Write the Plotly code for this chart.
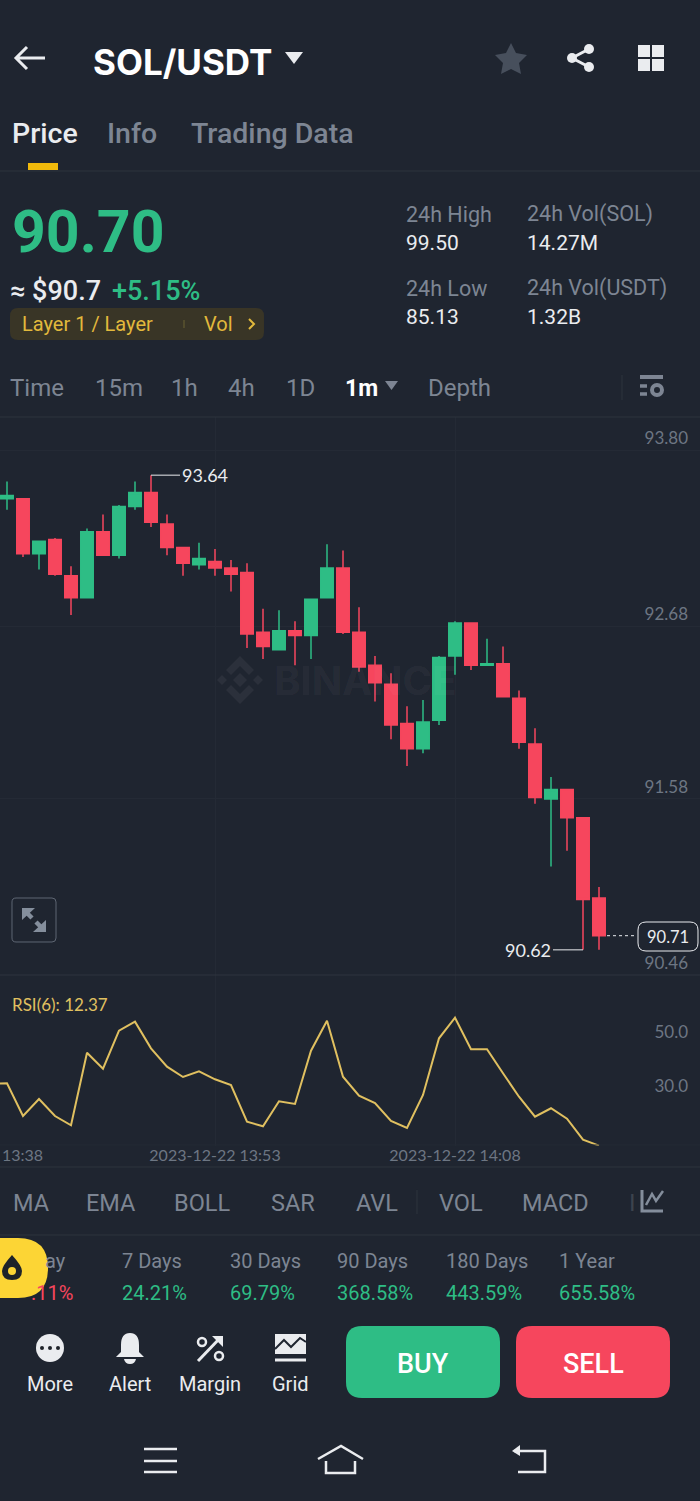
# SOL/USDT 1m candles with RSI, laid out like the Binance app screen
import pandas as pd
import plotly.graph_objects as go
from plotly.subplots import make_subplots

W, H = 700, 1501
BG = '#1f2530'
GREEN = '#2ebd85'
RED = '#f6465d'
YELLOW = '#f0b90b'
GOLD = '#e0c060'
GREY = '#7d8593'
AXIS_GREY = '#6d7683'
WHITE = '#eaecef'
GRID = '#242a35'
RULE = '#2e343e'
UI_FONT = 'Roboto'
CHART_FONT = 'Lato'

# candles, one per minute from 13:40
opens = [93.49, 93.49, 93.14, 93.23, 93.00, 92.86, 93.28, 93.13, 93.44, 93.53,
         93.33, 93.18, 93.07, 93.09, 93.05, 93.02, 92.64, 92.53, 92.65, 92.62,
         92.86, 93.05, 92.64, 92.43, 92.31, 92.06, 91.90, 92.08, 92.49, 92.70,
         92.43, 92.44, 92.22, 91.93, 91.58, 91.64, 91.46, 90.95]
highs = [93.60, 93.49, 93.22, 93.24, 93.06, 93.30, 93.39, 93.45, 93.60, 93.64,
         93.39, 93.18, 93.21, 93.17, 93.10, 93.08, 92.79, 92.78, 92.71, 92.85,
         93.20, 93.16, 92.80, 92.49, 92.38, 92.17, 92.21, 92.49, 92.71, 92.70,
         92.60, 92.55, 92.27, 92.03, 91.72, 91.64, 91.46, 91.02]
lows = [93.42, 93.12, 93.04, 93.00, 92.75, 92.86, 93.13, 93.11, 93.42, 93.31,
        93.13, 93.00, 93.04, 93.00, 92.90, 92.54, 92.47, 92.53, 92.43, 92.47,
        92.86, 92.63, 92.39, 92.20, 91.96, 91.79, 91.87, 92.05, 92.37, 92.40,
        92.43, 92.23, 91.90, 91.55, 91.15, 91.25, 90.62, 90.62]
closes = [93.51, 93.14, 93.22, 93.01, 92.86, 93.28, 93.13, 93.44, 93.53, 93.34,
          93.18, 93.08, 93.11, 93.05, 93.01, 92.63, 92.55, 92.65, 92.62, 92.85,
          93.05, 92.64, 92.42, 92.32, 92.05, 91.90, 92.07, 92.48, 92.70, 92.43,
          92.44, 92.23, 91.94, 91.59, 91.64, 91.46, 90.94, 90.71]
# rsi starts one minute earlier, the line comes in from off screen
rsi = [35.2, 35.44, 23.33, 29.63, 23.33, 19.89, 46.78, 40.85, 54.93, 58.26, 48.41,
       41.59, 37.78, 39.89, 36.93, 34.81, 21.22, 19.52, 28.78, 27.78, 47.52,
       58.63, 37.89, 30.85, 28.15, 21.48, 18.89, 31.11, 52.11, 59.74, 48.04,
       48.04, 39.15, 30.48, 23.07, 26.19, 22.33, 14.56, 12.37]
times = pd.date_range('2023-12-22 13:40', periods=len(opens), freq='min')
rsi_times = pd.date_range('2023-12-22 13:39', periods=len(rsi), freq='min')

price_ticks = [93.80, 92.68, 91.58, 90.46]
rsi_ticks = [50, 30]
time_ticks = ['2023-12-22 13:53', '2023-12-22 14:08']

tabs = [('Price', 12, WHITE), ('Info', 107, GREY), ('Trading Data', 191, GREY)]
intervals = [('Time', 10), ('15m', 95), ('1h', 171), ('4h', 228), ('1D', 286), ('Depth', 428)]
indicators = [('MA', 13), ('EMA', 86), ('BOLL', 174), ('SAR', 271), ('AVL', 356),
              ('VOL', 439), ('MACD', 522)]
periods = [('7 Days', '24.21%', 122), ('30 Days', '69.79%', 230), ('90 Days', '368.58%', 337),
           ('180 Days', '443.59%', 446), ('1 Year', '655.58%', 559)]
stats = [('24h High', '99.50', 406, 214), ('24h Vol(SOL)', '14.27M', 527, 214),
         ('24h Low', '85.13', 406, 288), ('24h Vol(USDT)', '1.32B', 527, 288)]
actions = [('More', 50), ('Alert', 130), ('Margin', 210), ('Grid', 290)]


def frac_y(y):
    return 1 - y / H


fig = make_subplots(rows=2, cols=1, shared_xaxes=True)
fig.add_trace(go.Candlestick(
    x=times, open=opens, high=highs, low=lows, close=closes, whiskerwidth=0,
    increasing=dict(line=dict(color=GREEN, width=1.5), fillcolor=GREEN),
    decreasing=dict(line=dict(color=RED, width=1.5), fillcolor=RED),
    hoverinfo='skip'), row=1, col=1)
fig.add_trace(go.Scatter(x=rsi_times, y=rsi, mode='lines', hoverinfo='skip',
                         line=dict(color=GOLD, width=2)), row=2, col=1)

# 16 px per minute, first candle centred at x=7
left = times[0] - pd.Timedelta(minutes=7 / 16)
right = left + pd.Timedelta(minutes=W / 16)
fig.update_xaxes(range=[left, right], showgrid=True, gridcolor=GRID, gridwidth=1,
                 zeroline=False, showline=False, ticks='', tickvals=time_ticks,
                 tickformat='%Y-%m-%d %H:%M', rangeslider_visible=False,
                 ticklabelstandoff=-2,
                 tickfont=dict(family=CHART_FONT, size=16, color=AXIS_GREY))
fig.update_xaxes(showticklabels=False, row=1, col=1)
fig.update_yaxes(side='right', ticklabelposition='inside', ticks='', zeroline=False,
                 showline=False, gridcolor=GRID, gridwidth=1, ticklabelstandoff=9,
                 ticklabelshift=-12,
                 tickfont=dict(family=CHART_FONT, size=17, color=AXIS_GREY))
fig.update_yaxes(domain=[frac_y(975), frac_y(417)], range=[90.46, 94.01],
                 tickvals=price_ticks, tickformat='.2f', row=1, col=1)
fig.update_yaxes(domain=[frac_y(1146), frac_y(975)], range=[12.22, 75.56],
                 tickvals=rsi_ticks, tickformat='.1f', showgrid=False, row=2, col=1)

shapes = []
notes = []


def text(s, x, y, size, color=GREY, anchor='left', weight=400, family=UI_FONT):
    if anchor == 'left':
        x -= 1.5
    notes.append(dict(text=s, x=x / W, y=frac_y(y), xref='paper', yref='paper',
                      xanchor=anchor, yanchor='middle', showarrow=False, borderpad=0,
                      font=dict(family=family, size=size, color=color, weight=weight)))


def path(d):
    # svg style path in screen pixels -> paper fractions
    out = []
    is_x = True
    for tok in d.split():
        if tok.isalpha():
            out.append(tok)
        else:
            val = float(tok)
            out.append(f'{val / W:.5f}' if is_x else f'{frac_y(val):.5f}')
            is_x = not is_x
    return ' '.join(out)


def draw(d, fill=None, line=None, width=0, layer='above'):
    shapes.append(dict(type='path', path=path(d), xref='paper', yref='paper', layer=layer,
                       fillcolor=fill or 'rgba(0,0,0,0)',
                       line=dict(color=line or 'rgba(0,0,0,0)', width=width)))


def rrect(x0, y0, x1, y1, r):
    return (f'M {x0 + r} {y0} L {x1 - r} {y0} Q {x1} {y0} {x1} {y0 + r} L {x1} {y1 - r} '
            f'Q {x1} {y1} {x1 - r} {y1} L {x0 + r} {y1} Q {x0} {y1} {x0} {y1 - r} '
            f'L {x0} {y0 + r} Q {x0} {y0} {x0 + r} {y0} Z')


def circle(cx, cy, r, fill=None, line=None, width=0):
    shapes.append(dict(type='circle', xref='paper', yref='paper',
                       x0=(cx - r) / W, x1=(cx + r) / W,
                       y0=frac_y(cy + r), y1=frac_y(cy - r),
                       fillcolor=fill or 'rgba(0,0,0,0)',
                       line=dict(color=line or 'rgba(0,0,0,0)', width=width)))


# rules
for y, col in [(171, RULE), (417, RULE), (975, RULE), (1145, GRID), (1167, RULE), (1235, RULE)]:
    draw(f'M 0 {y} L {W} {y}', line=col, width=1)

# header
draw('M 16 58 L 45 58 M 27 47 L 16 58 L 27 69', line=WHITE, width=3)
text('SOL/USDT', 93, 62, 35, 'white', weight=700, family='Inter')
draw('M 285 52 L 303 52 L 294 64 Z', fill=WHITE)
draw('M 511 43 L 516 53 L 527 55 L 519 63 L 521 74 L 511 69 L 501 74 L 503 63 L 495 55 L 506 53 Z',
     fill='#474f5c')
draw('M 589 49 L 572 58 L 589 67', line=WHITE, width=3)
for cx, cy in [(589, 49), (572, 58), (589, 67)]:
    circle(cx, cy, 5, fill=WHITE)
for x0, y0 in [(638, 45), (652, 45), (638, 59), (652, 59)]:
    draw(f'M {x0} {y0} L {x0 + 12} {y0} L {x0 + 12} {y0 + 12} L {x0} {y0 + 12} Z', fill=WHITE)

# tabs
for name, x, col in tabs:
    text(name, x, 134, 28.5, col, weight=500)
draw('M 28 163 L 58 163 L 58 170 L 28 170 Z', fill=YELLOW)

# price block
text('90.70', 12, 231, 59, GREEN, weight=700)
text('≈ $90.7', 10, 291, 27, WHITE, weight=500)
text('+5.15%', 112, 291, 27, GREEN, weight=500)
draw(rrect(10, 308, 264, 340, 8), fill='#393526')
text('Layer 1 / Layer', 22, 324, 20, '#e2b93c')
draw('M 184 320 L 184 328', line='#6b6232', width=1)
text('Vol', 204, 324, 20, '#e2b93c')
draw('M 249 319 L 254 324 L 249 329', line='#e2b93c', width=2)
for label, value, x, y in stats:
    text(label, x, y, 21.5, GREY)
    text(value, x, y + 29, 21, WHITE)

# interval row
for name, x in intervals:
    text(name, x, 388, 24, GREY)
text('1m', 345, 388, 23, 'white', weight=700)
draw('M 385 381 L 398 381 L 391.5 390 Z', fill=GREY)
draw('M 622 375 L 622 400', line=RULE, width=1)
draw('M 640 377 L 663 377', line=GREY, width=4)
draw('M 640 386 L 647 386 M 640 394 L 647 394', line=GREY, width=3.5)
circle(657, 390, 5, fill=BG, line=GREY, width=4)

# expand button
draw(rrect(12, 898, 56, 942, 4), line='#5e6673', width=1)
draw('M 27 913 L 32 918 M 36 922 L 41 927', line='#848e9c', width=4.5)
draw('M 22 908 L 35 908 L 22 920 Z M 46 932 L 33 932 L 46 920 Z', fill='#848e9c')

# watermark
wm = 'rgba(255,255,255,0.055)'
draw('M 240 673 L 247 680 L 240 687 L 233 680 Z', fill=wm, layer='below')
draw('M 222 675 L 227 680 L 222 685 L 217 680 Z M 258 675 L 263 680 L 258 685 L 253 680 Z',
     fill=wm, layer='below')
draw('M 240 656 L 254 670 L 249 675 L 240 666 L 231 675 L 226 670 Z', fill=wm, layer='below')
draw('M 240 704 L 254 690 L 249 685 L 240 694 L 231 685 L 226 690 Z', fill=wm, layer='below')
text('BINANCE', 274, 680, 40, wm, weight=700, family='Inter')

# high / low markers
notes.append(dict(x=times[9], y=highs[9], xref='x', yref='y', text='93.64', ax=29, ay=0,
                  showarrow=True, arrowhead=0, arrowwidth=1, arrowcolor=WHITE,
                  xanchor='left', font=dict(family=CHART_FONT, size=18, color=WHITE)))
notes.append(dict(x=times[36], y=lows[36], xref='x', yref='y', text='90.62', ax=-30, ay=0,
                  showarrow=True, arrowhead=0, arrowwidth=1, arrowcolor=WHITE,
                  xanchor='right', font=dict(family=CHART_FONT, size=18, color=WHITE)))

# last price tag
shapes.append(dict(type='line', xref='paper', yref='y', x0=607 / W, x1=635 / W,
                   y0=closes[-1], y1=closes[-1], line=dict(color=WHITE, width=1, dash='3px,3px')))
draw(rrect(638, 922, 698, 951, 8), fill=BG, line=WHITE, width=1)
text('90.71', 668, 937, 16.5, WHITE, anchor='center', family=CHART_FONT)

# rsi pane text
text('RSI(6): 12.37', 12, 1005, 17, GOLD, family=CHART_FONT)
text('13:38', 2, 1154.5, 16, AXIS_GREY, family=CHART_FONT)

# indicator row
for name, x in indicators:
    text(name, x, 1203, 23.5, GREY)
text('I', 629, 1203, 24, '#3d434e')
draw('M 417 1190 L 417 1214', line=RULE, width=1)
draw('M 642 1190 L 642 1211 L 663 1211', line='#848e9c', width=3)
draw('M 646 1205 L 652 1194 L 656 1201 L 663 1191', line='#848e9c', width=2.5)

# period returns
text('ay', 67, 1261, 20, GREY, anchor='right')
text('.11%', 74, 1293, 20, RED, anchor='right')
for label, value, x in periods:
    text(label, x, 1261, 20, GREY)
    text(value, x, 1293, 20, GREEN)
draw('M 0 1238 L 18 1238 Q 48 1238 48 1268 Q 48 1298 18 1298 L 0 1298 Z', fill='#fcd535')
draw('M 12 1255 Q 22 1266 22 1271 Q 22 1280 12 1280 Q 2 1280 2 1271 Q 2 1266 12 1255 Z', fill='#1e2329')
circle(12, 1271, 4, fill='#fcd535')

# action icons
circle(50, 1348, 14, fill=WHITE)
for cx in [42, 50, 58]:
    circle(cx, 1348, 2, fill='#1e2329')
draw('M 130 1333 Q 139 1333 139 1345 L 139 1352 L 144 1357 L 116 1357 L 121 1352 L 121 1345 Q 121 1333 130 1333 Z',
     fill=WHITE)
draw('M 124 1359 L 136 1359 Q 135 1364 130 1364 Q 125 1364 124 1359 Z', fill=WHITE)
draw('M 198 1361 L 221 1337', line=WHITE, width=3)
draw('M 212 1336 L 223 1336 L 223 1347 Z', fill=WHITE)
circle(202, 1342, 4, line=WHITE, width=2.5)
circle(219, 1356, 4, line=WHITE, width=2.5)
draw('M 275 1334 L 306 1334 L 306 1354 L 275 1354 Z', fill=WHITE)
draw('M 275 1349 L 284 1340 L 291 1347 L 300 1338 L 306 1342', line=BG, width=2)
draw('M 275 1360 L 306 1360', line=WHITE, width=3)
for name, x in actions:
    text(name, x, 1384, 20, WHITE, anchor='center')

# buy / sell
draw(rrect(346, 1326, 500, 1398, 16), fill=GREEN)
draw(rrect(516, 1326, 670, 1398, 16), fill=RED)
text('BUY', 423, 1364, 27, 'white', anchor='center', weight=500)
text('SELL', 593, 1364, 27, 'white', anchor='center', weight=500)

# android nav bar
draw('M 144 1449 L 177 1449 M 144 1461 L 177 1461 M 144 1472 L 177 1472', line=WHITE, width=2.5)
draw('M 318 1459 L 341 1446 L 363 1459', line=WHITE, width=2.5)
draw('M 326 1461 L 326 1473 L 355 1473 L 355 1461', line=WHITE, width=2.5)
draw('M 514 1451 L 545 1451 L 545 1472 L 518 1472', line=WHITE, width=2.5)
draw('M 512 1451 L 520 1445 L 520 1456 Z', fill=WHITE)

fig.update_layout(
    width=W, height=H, margin=dict(l=0, r=0, t=0, b=0),
    paper_bgcolor=BG, plot_bgcolor=BG, showlegend=False,
    boxgap=0.22, boxgroupgap=0, shapes=shapes, annotations=notes,
)
fig.write_html('out.html', config=dict(displayModeBar=False),
               post_script="document.body.style.margin='0';document.body.style.background='#1f2530';")
